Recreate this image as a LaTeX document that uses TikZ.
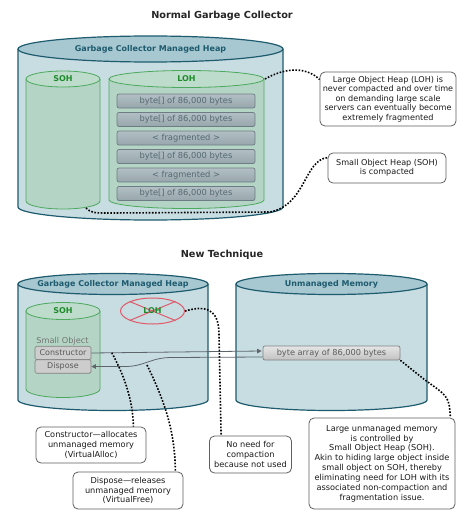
\documentclass[tikz,border=0pt]{standalone}
\usepackage{fontspec}
\setmainfont{DejaVu Sans}
\usetikzlibrary{arrows.meta,calc,shapes.geometric}
\definecolor{outerbodyc}{HTML}{C8DDE2}
\definecolor{outertopc}{HTML}{A8C8D1}
\definecolor{outerlinec}{HTML}{1E5B6E}
\definecolor{innerbodyc}{HTML}{B4D5C5}
\definecolor{innertopc}{HTML}{BEDCCB}
\definecolor{innerlinec}{HTML}{4CA85C}
\definecolor{greenlbl}{HTML}{1E8C2A}
\definecolor{rowline}{HTML}{6E7D83}
\definecolor{rowtop}{HTML}{B2C0C5}
\definecolor{rowbot}{HTML}{97A6AC}
\definecolor{rowtext}{HTML}{56686F}
\definecolor{callline}{HTML}{606060}
\definecolor{calltext}{HTML}{1A1A1A}
\definecolor{crossred}{HTML}{E05A6A}
\definecolor{grayarrow}{HTML}{5E666C}
\definecolor{smallbox}{HTML}{CDCDCD}
\definecolor{smallline}{HTML}{808080}
\definecolor{smalltext}{HTML}{5A5A5A}
\newcommand\drawcyl[6]{%
  \pgfmathsetmacro\cylrx{(#2-#1)/2}%
  \pgfmathsetmacro\cylcx{(#1+#2)/2}%
  \fill[#6body] (#1,#3) -- (#1,#4) arc[start angle=180,end angle=0,x radius=\cylrx,y radius=#5] -- (#2,#3) -- cycle;
  \draw[#6line] (#1,#3) -- (#1,#4) arc[start angle=180,end angle=0,x radius=\cylrx,y radius=#5] -- (#2,#3);
  \draw[#6line,#6top] (\cylcx,#3) ellipse[x radius=\cylrx,y radius=#5];
}
\tikzset{
  outerbody/.style={fill=outerbodyc},
  outerline/.style={draw=outerlinec,line width=1.2pt},
  outertop/.style={fill=outertopc},
  innerbody/.style={fill=innerbodyc},
  innerline/.style={draw=innerlinec,line width=0.8pt},
  innertop/.style={fill=innertopc},
  titletxt/.style={font=\fontsize{9.7}{11}\selectfont\bfseries,text=black!85},
  headtxt/.style={font=\fontsize{8}{9}\selectfont\bfseries,text=outerlinec},
  greentxt/.style={font=\fontsize{8}{9}\selectfont\bfseries,text=greenlbl},
  rowbox/.style={draw=rowline,line width=0.7pt,rounded corners=2pt,top color=rowtop,bottom color=rowbot,
    minimum width=138pt,minimum height=14pt,inner sep=0pt,text=rowtext,font=\fontsize{8.3}{9}\selectfont},
  callout/.style={draw=callline,fill=white,line width=0.8pt,rounded corners=5pt,inner sep=0pt,
    text=calltext,align=center,font=\fontsize{8.1}{9.4}\selectfont},
  callb/.style={callout,font=\fontsize{8.2}{9.9}\selectfont},
  smallobj/.style={draw=smallline,fill=smallbox,line width=0.7pt,rounded corners=1.5pt,
    minimum width=56pt,minimum height=13.5pt,inner sep=0pt,text=smalltext,font=\fontsize{8}{9}\selectfont},
  bytebox/.style={draw=smallline,line width=0.7pt,rounded corners=2pt,top color=black!10,bottom color=black!24,
    minimum width=137pt,minimum height=14pt,inner sep=0pt,text=smalltext,font=\fontsize{8.2}{9}\selectfont},
  dots/.style={line width=1.6pt,dash pattern=on 1.6pt off 1.6pt},
  garrow/.style={draw=grayarrow,line width=0.8pt,-{Triangle[length=4.5pt,width=4.5pt]}},
}
\begin{document}
\begin{tikzpicture}[x=1pt,y=-1pt]
\useasboundingbox[fill=white] (0,0) rectangle (474,519);

% ---------------- Top: Normal Garbage Collector
\node[titletxt] (t1) at (222,16) {Normal Garbage Collector};
\drawcyl{18}{283}{49}{207}{13}{outer}
\node[headtxt] (h1) at (150.5,49) {Garbage Collector Managed Heap};
\drawcyl{26}{100}{79}{201}{8}{inner}
\drawcyl{109}{264}{79}{200}{8.5}{inner}
\node[greentxt] (soh1) at (63,79) {SOH};
\node[greentxt] (loh1) at (186.5,79) {LOH};
\node[rowbox] (r1) at (186,101) {byte[] of 86,000 bytes};
\node[rowbox] (r2) at (186,119.5) {byte[] of 86,000 bytes};
\node[rowbox] (r3) at (186,138) {< fragmented >};
\node[rowbox] (r4) at (186,156.5) {byte[] of 86,000 bytes};
\node[rowbox] (r5) at (186,175) {< fragmented >};
\node[rowbox] (r6) at (186,193.5) {byte[] of 86,000 bytes};
\coordinate (lohtr) at (265,79);
\coordinate (sohbot) at (86,208);

\node[callout,minimum width=136pt,minimum height=54pt] (c1) at (388,99)
  {Large Object Heap (LOH) is\\never compacted and over time\\on demanding large scale\\servers can eventually become\\extremely fragmented};
\node[callout,minimum width=118pt,minimum height=30pt] (c2) at (387,168)
  {Small Object Heap (SOH)\\is compacted};

\draw[dots] (lohtr) .. controls (288,66) and (308,68) .. ($(c1.north west)+(0,8)$);
\draw[dots] (sohbot) .. controls (92,213) .. (112,213) -- (270,212)
  .. controls (306,205) and (304,160) .. ($(c2.north west)+(0,5)$);

% ---------------- Bottom: New Technique
\node[titletxt] (t2) at (222,255) {New Technique};
\drawcyl{18}{208}{284}{400}{10.5}{outer}
\drawcyl{236}{427}{284}{400}{10.5}{outer}
\node[headtxt] (h2) at (113,284) {Garbage Collector Managed Heap};
\node[headtxt] (h3) at (331.5,284) {Unmanaged Memory};
\drawcyl{26}{100}{311}{389}{8.5}{inner}
\node[greentxt] (soh2) at (63,311) {SOH};

\node[ellipse,draw=crossred,line width=1pt,minimum width=64pt,minimum height=26pt,inner sep=0pt] (lohx) at (152.5,311) {};
\draw[crossred,line width=1pt] (lohx.north west) -- (lohx.south east);
\draw[crossred,line width=1pt] (lohx.south west) -- (lohx.north east);
\node[greentxt] (loh2) at (152.5,311) {LOH};

\node[font=\fontsize{8.2}{9}\selectfont,text=black!55] (so) at (62.5,341) {Small Object};
\node[smallobj] (con) at (63,353) {Constructor};
\node[smallobj] (dis) at (63,366.5) {Dispose};
\node[bytebox] (ba) at (331.5,353) {byte array of 86,000 bytes};

\draw[garrow] (con.east) -- coordinate[pos=0.12] (cp) ($(ba.west)+(-1,-2)$);
\draw[garrow] ($(ba.west)+(0,4)$) -- (172,357.5) .. controls (150,357.5) and (145,366.5) .. (125,366.5) -- (dis.east);
\coordinate (dp) at (147,365);

\node[callb,minimum width=110pt,minimum height=36pt] (k1) at (91,445)
  {Constructor---allocates\\unmanaged memory\\(VirtualAlloc)};
\node[callb,minimum width=110pt,minimum height=37pt] (k2) at (128,490.5)
  {Dispose---releases\\unmanaged memory\\(VirtualFree)};
\node[callb,minimum width=82pt,minimum height=37pt] (k3) at (250.5,454.5)
  {No need for\\compaction\\because not used};
\node[callb,minimum width=146pt,minimum height=91pt] (k4) at (382,463.5)
  {Large unmanaged memory\\is controlled by\\Small Object Heap (SOH).\\Akin to hiding large object inside\\small object on SOH, thereby\\eliminating need for LOH with its\\associated non-compaction and\\fragmentation issue.};

\draw[dots] (cp) .. controls (124,375) and (133,400) .. ($(k1.north east)+(-13,0)$);
\draw[dots] (dp) .. controls (164,400) and (175,430) .. ($(k2.north east)+(-8,0)$);
\draw[dots] (lohx.east) .. controls (212,303) and (219,315) .. (219,335) -- ($(k3.north west)+(12,0)$);
\draw[dots] (ba.south east) -- (425,380) .. controls (449,397) .. ($(k4.north east)+(-5,0)$);
\end{tikzpicture}
\end{document}
